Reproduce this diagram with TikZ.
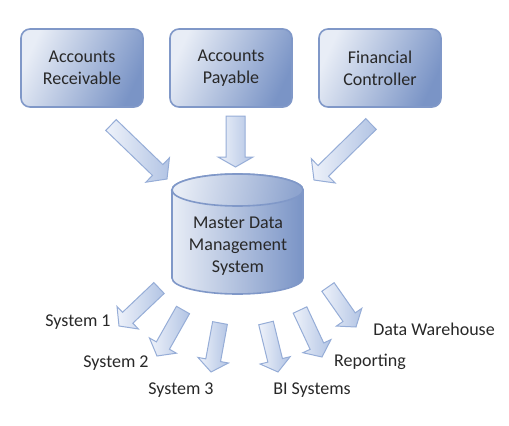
\documentclass[tikz,border=0pt]{standalone}
\usepackage{fontspec}
\setmainfont{Carlito}
\usetikzlibrary{calc}
\definecolor{bordc}{RGB}{128,152,200}
\definecolor{boxlight}{RGB}{232,237,246}
\definecolor{boxdark}{RGB}{122,148,198}
\definecolor{arrlight}{RGB}{238,242,250}
\definecolor{arrdark}{RGB}{178,196,228}
\definecolor{arrbord}{RGB}{150,173,215}
\definecolor{txt}{RGB}{40,40,40}
\newcommand\blockarrow[5]{%
  \path ($(#2)!#5!(#1)$) coordinate (ba-b);
  \shade[arrowstyle] ($(#1)!#3!90:(#2)$) -- ($(ba-b)!#3!90:(#2)$) -- ($(ba-b)!#4!90:(#2)$) -- (#2) -- ($(ba-b)!#4!-90:(#2)$) -- ($(ba-b)!#3!-90:(#2)$) -- ($(#1)!#3!-90:(#2)$) -- cycle;}
\tikzset{
  boxstyle/.style={rounded corners=9bp, draw=bordc, line width=1.6bp,
    top color=boxlight, bottom color=boxdark, shading angle=65,
    minimum width=122bp, minimum height=78bp, align=center,
    font=\fontsize{18bp}{22bp}\selectfont, text=txt},
  arrowstyle/.style={draw=arrbord, line width=1bp, line join=miter,
    left color=arrlight, right color=arrdark},
  lbl/.style={font=\fontsize{18bp}{22bp}\selectfont, text=txt, inner sep=0pt},
}
\begin{document}
\begin{tikzpicture}[x=1bp,y=1bp]
\useasboundingbox (0,0) rectangle (509,425);
% boxes
\node[boxstyle] (ar) at (82,357) {Accounts\\Receivable};
\node[boxstyle] (ap) at (231,357) {Accounts\\Payable};
\node[boxstyle] (fc) at (380,357) {Financial\\Controller};
% cylinder
\shade[left color=boxlight, right color=boxdark, draw=bordc, line width=1.6bp]
  (172,235) -- (172,147) arc[start angle=180, end angle=360, x radius=65.5bp, y radius=16bp]
  -- (303,235) arc[start angle=0, end angle=180, x radius=65.5bp, y radius=16bp] -- cycle;
\shade[left color=boxlight, right color=boxdark!85!white, shading angle=80, draw=bordc, line width=1.6bp]
  (237.5,235) ellipse[x radius=65.5bp, y radius=16bp];
\node[lbl, align=center] (mdm) at (238,179) {Master Data\\Management\\System};
% top arrows
\coordinate (t1) at (111,300); \coordinate (h1) at (167,246);
\coordinate (t2) at (235.5,309); \coordinate (h2) at (235.5,258);
\coordinate (t3) at (371,301); \coordinate (h3) at (314,245);
\blockarrow{t1}{h1}{7.5bp}{17bp}{13bp}
\blockarrow{t2}{h2}{9.5bp}{17.5bp}{10bp}
\blockarrow{t3}{h3}{7.5bp}{17bp}{13bp}
% bottom labels
\node[lbl] (s1) at (78,103) {System 1};
\node[lbl] (s2) at (116,62) {System 2};
\node[lbl] (s3) at (181,35) {System 3};
\node[lbl] (bi) at (312,35) {BI Systems};
\node[lbl] (rp) at (370,63) {Reporting};
\node[lbl] (dw) at (434,96) {Data Warehouse};
% bottom arrows
\coordinate (bt1) at (159,137); \coordinate (bh1) at (119,99);
\coordinate (bt2) at (183,115); \coordinate (bh2) at (157,69);
\coordinate (bt3) at (220,102); \coordinate (bh3) at (211,53);
\coordinate (bt4) at (266,102); \coordinate (bh4) at (278,53);
\coordinate (bt5) at (300,115); \coordinate (bh5) at (322,68);
\coordinate (bt6) at (328,138); \coordinate (bh6) at (356,98);
\blockarrow{bt1}{bh1}{7.5bp}{15.5bp}{12bp}
\blockarrow{bt2}{bh2}{7.5bp}{15.5bp}{12bp}
\blockarrow{bt3}{bh3}{7.5bp}{15.5bp}{12bp}
\blockarrow{bt4}{bh4}{7.5bp}{15.5bp}{12bp}
\blockarrow{bt5}{bh5}{7.5bp}{15.5bp}{12bp}
\blockarrow{bt6}{bh6}{7.5bp}{15.5bp}{12bp}
\end{tikzpicture}
\end{document}
